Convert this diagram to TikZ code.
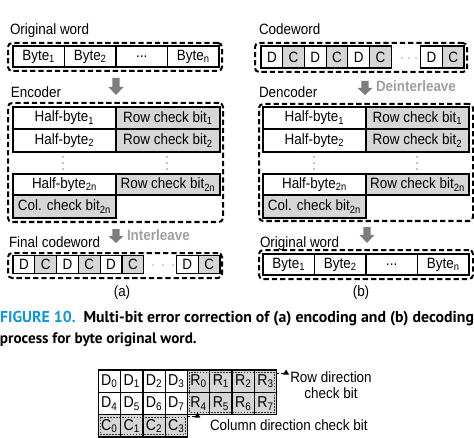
\documentclass[tikz,border=0pt]{standalone}
\usepackage{fontspec}
\setmainfont{Liberation Sans}[FakeStretch=0.9]
\newfontfamily\capfont{PT Sans}
\usetikzlibrary{arrows.meta}
\definecolor{cellgray}{RGB}{214,214,214}
\definecolor{arrgray}{RGB}{125,125,125}
\definecolor{txtgray}{RGB}{160,160,160}
\definecolor{figblue}{RGB}{20,150,210}
\newcommand\lblsize{\fontsize{11.2}{13}\selectfont}
\newcommand\gridsize{\fontsize{11.8}{13}\selectfont}
\newcommand\sub[1]{\textsubscript{#1}}
\tikzset{
 base/.style={inner sep=0pt, outer sep=0pt},
 cell/.style={base, draw, line width=0.9pt, font=\lblsize},
 gcell/.style={cell, fill=cellgray},
 grp/.style={base, draw, line width=1.5pt, dash pattern=on 4pt off 2.2pt, rounded corners=3pt},
 lbl/.style={base, font=\lblsize, anchor=base west},
 glbl/.style={base, font=\lblsize\bfseries, text=txtgray, anchor=west},
 dcell/.style={cell, line width=1pt, font=\gridsize},
 dgcell/.style={dcell, fill=cellgray},
 inner/.style={draw=black!80, line width=0.5pt, dash pattern=on 1.2pt off 1pt},
 leader/.style={draw, line width=0.6pt, dash pattern=on 2pt off 1.5pt},
}
\newcommand\cellb[7]{\node[#1, minimum width={(#5-(#3))*0.75pt}, minimum height={(#6-(#4))*0.75pt}] (#2) at ({(#3+#5)/2},{(#4+#6)/2}) {#7};}
\newcommand\grpb[5]{\node[grp, minimum width={(#4-(#2))*0.75pt}, minimum height={(#5-(#3))*0.75pt}] (#1) at ({(#2+#4)/2},{(#3+#5)/2}) {};}
\newcommand\garrow[4]{% x, ytop, yhead, ybottom
 \fill[arrgray] (#1-3.6,#2) -- (#1+3.6,#2) -- (#1+3.6,#3) -- (#1+7.5,#3) -- (#1,#4) -- (#1-7.5,#3) -- (#1-3.6,#3) -- cycle;}
\begin{document}
\begin{tikzpicture}[x=0.75pt,y=-0.75pt]
\useasboundingbox (0,0) rectangle (474,438);
\fill[white] (0,0) rectangle (474,438);

% ================= (a) encoding =================
\node[lbl] (ow1) at (10,35) {Original word};
\grpb{gow1}{8}{43}{222}{71}
\cellb{cell}{ba1}{13}{46}{64.5}{67}{Byte\sub{1}}
\cellb{cell}{ba2}{64.5}{46}{116}{67}{Byte\sub{2}}
\cellb{cell}{ba3}{116}{46}{167.5}{67}{...}
\cellb{cell}{ba4}{167.5}{46}{219}{67}{Byte\sub{n}}
\garrow{116}{78}{87}{95}
\node[lbl] (enc) at (11,98) {Encoder};
\grpb{genc}{8}{103}{223}{222}
\cellb{cell}{ea1}{13}{107}{116}{129}{Half-byte\sub{1}}
\cellb{gcell}{eb1}{116}{107}{220}{129}{Row check bit\sub{1}}
\cellb{cell}{ea2}{13}{129}{116}{152}{Half-byte\sub{2}}
\cellb{gcell}{eb2}{116}{129}{220}{152}{Row check bit\sub{2}}
\cellb{cell}{ea3}{13}{174}{116}{195}{Half-byte\sub{2n}}
\cellb{gcell}{eb3}{116}{174}{220}{195}{Row check bit\sub{2n}}
\cellb{gcell}{ea4}{13}{195}{116}{218}{Col. check bit\sub{2n}}
\foreach \yy in {157,163,169}{\fill (63,\yy) circle (0.45pt); \fill (167,\yy) circle (0.45pt);}
\garrow{116}{229}{236}{243}
\node[glbl] (il) at (127,235) {Interleave};
\node[lbl] (fc) at (9,247) {Final codeword};
\grpb{gfc}{8}{253}{222}{278}
\cellb{cell}{fa1}{13}{255.5}{34.8}{273.5}{D}
\cellb{gcell}{fa2}{34.8}{255.5}{56.6}{273.5}{C}
\cellb{cell}{fa3}{56.6}{255.5}{78.4}{273.5}{D}
\cellb{gcell}{fa4}{78.4}{255.5}{100.2}{273.5}{C}
\cellb{cell}{fa5}{100.2}{255.5}{122}{273.5}{D}
\cellb{gcell}{fa6}{122}{255.5}{143.8}{273.5}{C}
\foreach \xx in {153,163,173}{\fill[black!70] (\xx,265) circle (0.45pt);}
\cellb{cell}{fa7}{176.4}{255.5}{198.2}{273.5}{D}
\cellb{gcell}{fa8}{198.2}{255.5}{220}{273.5}{C}
\node[base, font=\lblsize] (la) at (122,293) {(a)};

% ================= (b) decoding =================
\node[lbl] (cw) at (259,35) {Codeword};
\grpb{gcw}{255}{43}{467}{72}
\cellb{cell}{ca1}{261}{46}{282.7}{68}{D}
\cellb{gcell}{ca2}{282.7}{46}{304.4}{68}{C}
\cellb{cell}{ca3}{304.4}{46}{326.1}{68}{D}
\cellb{gcell}{ca4}{326.1}{46}{347.8}{68}{C}
\cellb{cell}{ca5}{347.8}{46}{369.5}{68}{D}
\cellb{gcell}{ca6}{369.5}{46}{391.2}{68}{C}
\foreach \xx in {402,409,416}{\fill[black!70] (\xx,58) circle (0.45pt);}
\cellb{cell}{ca7}{420.6}{46}{442.3}{68}{D}
\cellb{gcell}{ca8}{442.3}{46}{464}{68}{C}
\garrow{365}{81}{88}{95}
\node[glbl] (dil) at (376,86) {Deinterleave};
\node[lbl] (dec) at (259,98) {Dencoder};
\grpb{gdec}{259}{104}{473}{221}
\cellb{cell}{da1}{263}{107}{366}{129}{Half-byte\sub{1}}
\cellb{gcell}{db1}{366}{107}{469}{129}{Row check bit\sub{1}}
\cellb{cell}{da2}{263}{129}{366}{152}{Half-byte\sub{2}}
\cellb{gcell}{db2}{366}{129}{469}{152}{Row check bit\sub{2}}
\cellb{cell}{da3}{263}{174}{366}{195}{Half-byte\sub{2n}}
\cellb{gcell}{db3}{366}{174}{469}{195}{Row check bit\sub{2n}}
\cellb{gcell}{da4}{263}{195}{366}{218}{Col. check bit\sub{2n}}
\foreach \yy in {157,163,169}{\fill (314,\yy) circle (0.45pt); \fill (417,\yy) circle (0.45pt);}
\node[lbl] (ow2) at (260,247) {Original word};
\garrow{367}{227}{235}{243}
\grpb{gow2}{259}{250}{473}{279}
\cellb{cell}{bb1}{263}{254}{314.5}{275}{Byte\sub{1}}
\cellb{cell}{bb2}{314.5}{254}{366}{275}{Byte\sub{2}}
\cellb{cell}{bb3}{366}{254}{417.5}{275}{...}
\cellb{cell}{bb4}{417.5}{254}{469}{275}{Byte\sub{n}}
\node[base, font=\lblsize] (lb) at (361,293) {(b)};

% ================= caption =================
\node[base, anchor=base west] (cap1) at (0,322) {\resizebox{355.5pt}{!}{\capfont\bfseries\textcolor{figblue}{FIGURE 10.}\enspace Multi-bit error correction of (a) encoding and (b) decoding}};
\node[base, anchor=base west] (cap2) at (0,343) {\resizebox{147.5pt}{!}{\capfont\bfseries process for byte original word.}};

% ================= bottom grid =================
\foreach \i/\lab in {0/0,1/1,2/2,3/3}{
  \cellb{dcell}{d\lab}{98.3+22.3*\i}{370}{120.6+22.3*\i}{392.3}{D\sub{\lab}}
  \cellb{dgcell}{r\lab}{187.5+22.3*\i}{370}{209.8+22.3*\i}{392.3}{R\sub{\lab}}
  \cellb{dgcell}{c\lab}{98.3+22.3*\i}{414.6}{120.6+22.3*\i}{437}{C\sub{\lab}}
}
\foreach \i/\lab in {0/4,1/5,2/6,3/7}{
  \cellb{dcell}{d\lab}{98.3+22.3*\i}{392.3}{120.6+22.3*\i}{414.6}{D\sub{\lab}}
  \cellb{dgcell}{r\lab}{187.5+22.3*\i}{392.3}{209.8+22.3*\i}{414.6}{R\sub{\lab}}
}
\draw[inner] (189.8,372.3) rectangle (274.4,412.3);
\draw[inner] (100.6,416.9) rectangle (185.2,434.7);
\coordinate (re) at (284,373);
\draw[leader] (r3.east |- re) -- (re);
\fill (283.2,374.5) -- (289,374.5) -- (286.1,369.5) -- cycle;
\node[base, font=\lblsize, align=center, anchor=north] (rtxt) at (331,371.5) {Row direction\\[-1pt]check bit};
\coordinate (ce) at (195,416);
\draw[leader] (c3.east |- ce) -- (ce);
\fill (194.5,417.5) -- (200.3,417.5) -- (197.4,412.5) -- cycle;
\node[lbl] (ctxt) at (210,430) {Column direction check bit};
\end{tikzpicture}
\end{document}
